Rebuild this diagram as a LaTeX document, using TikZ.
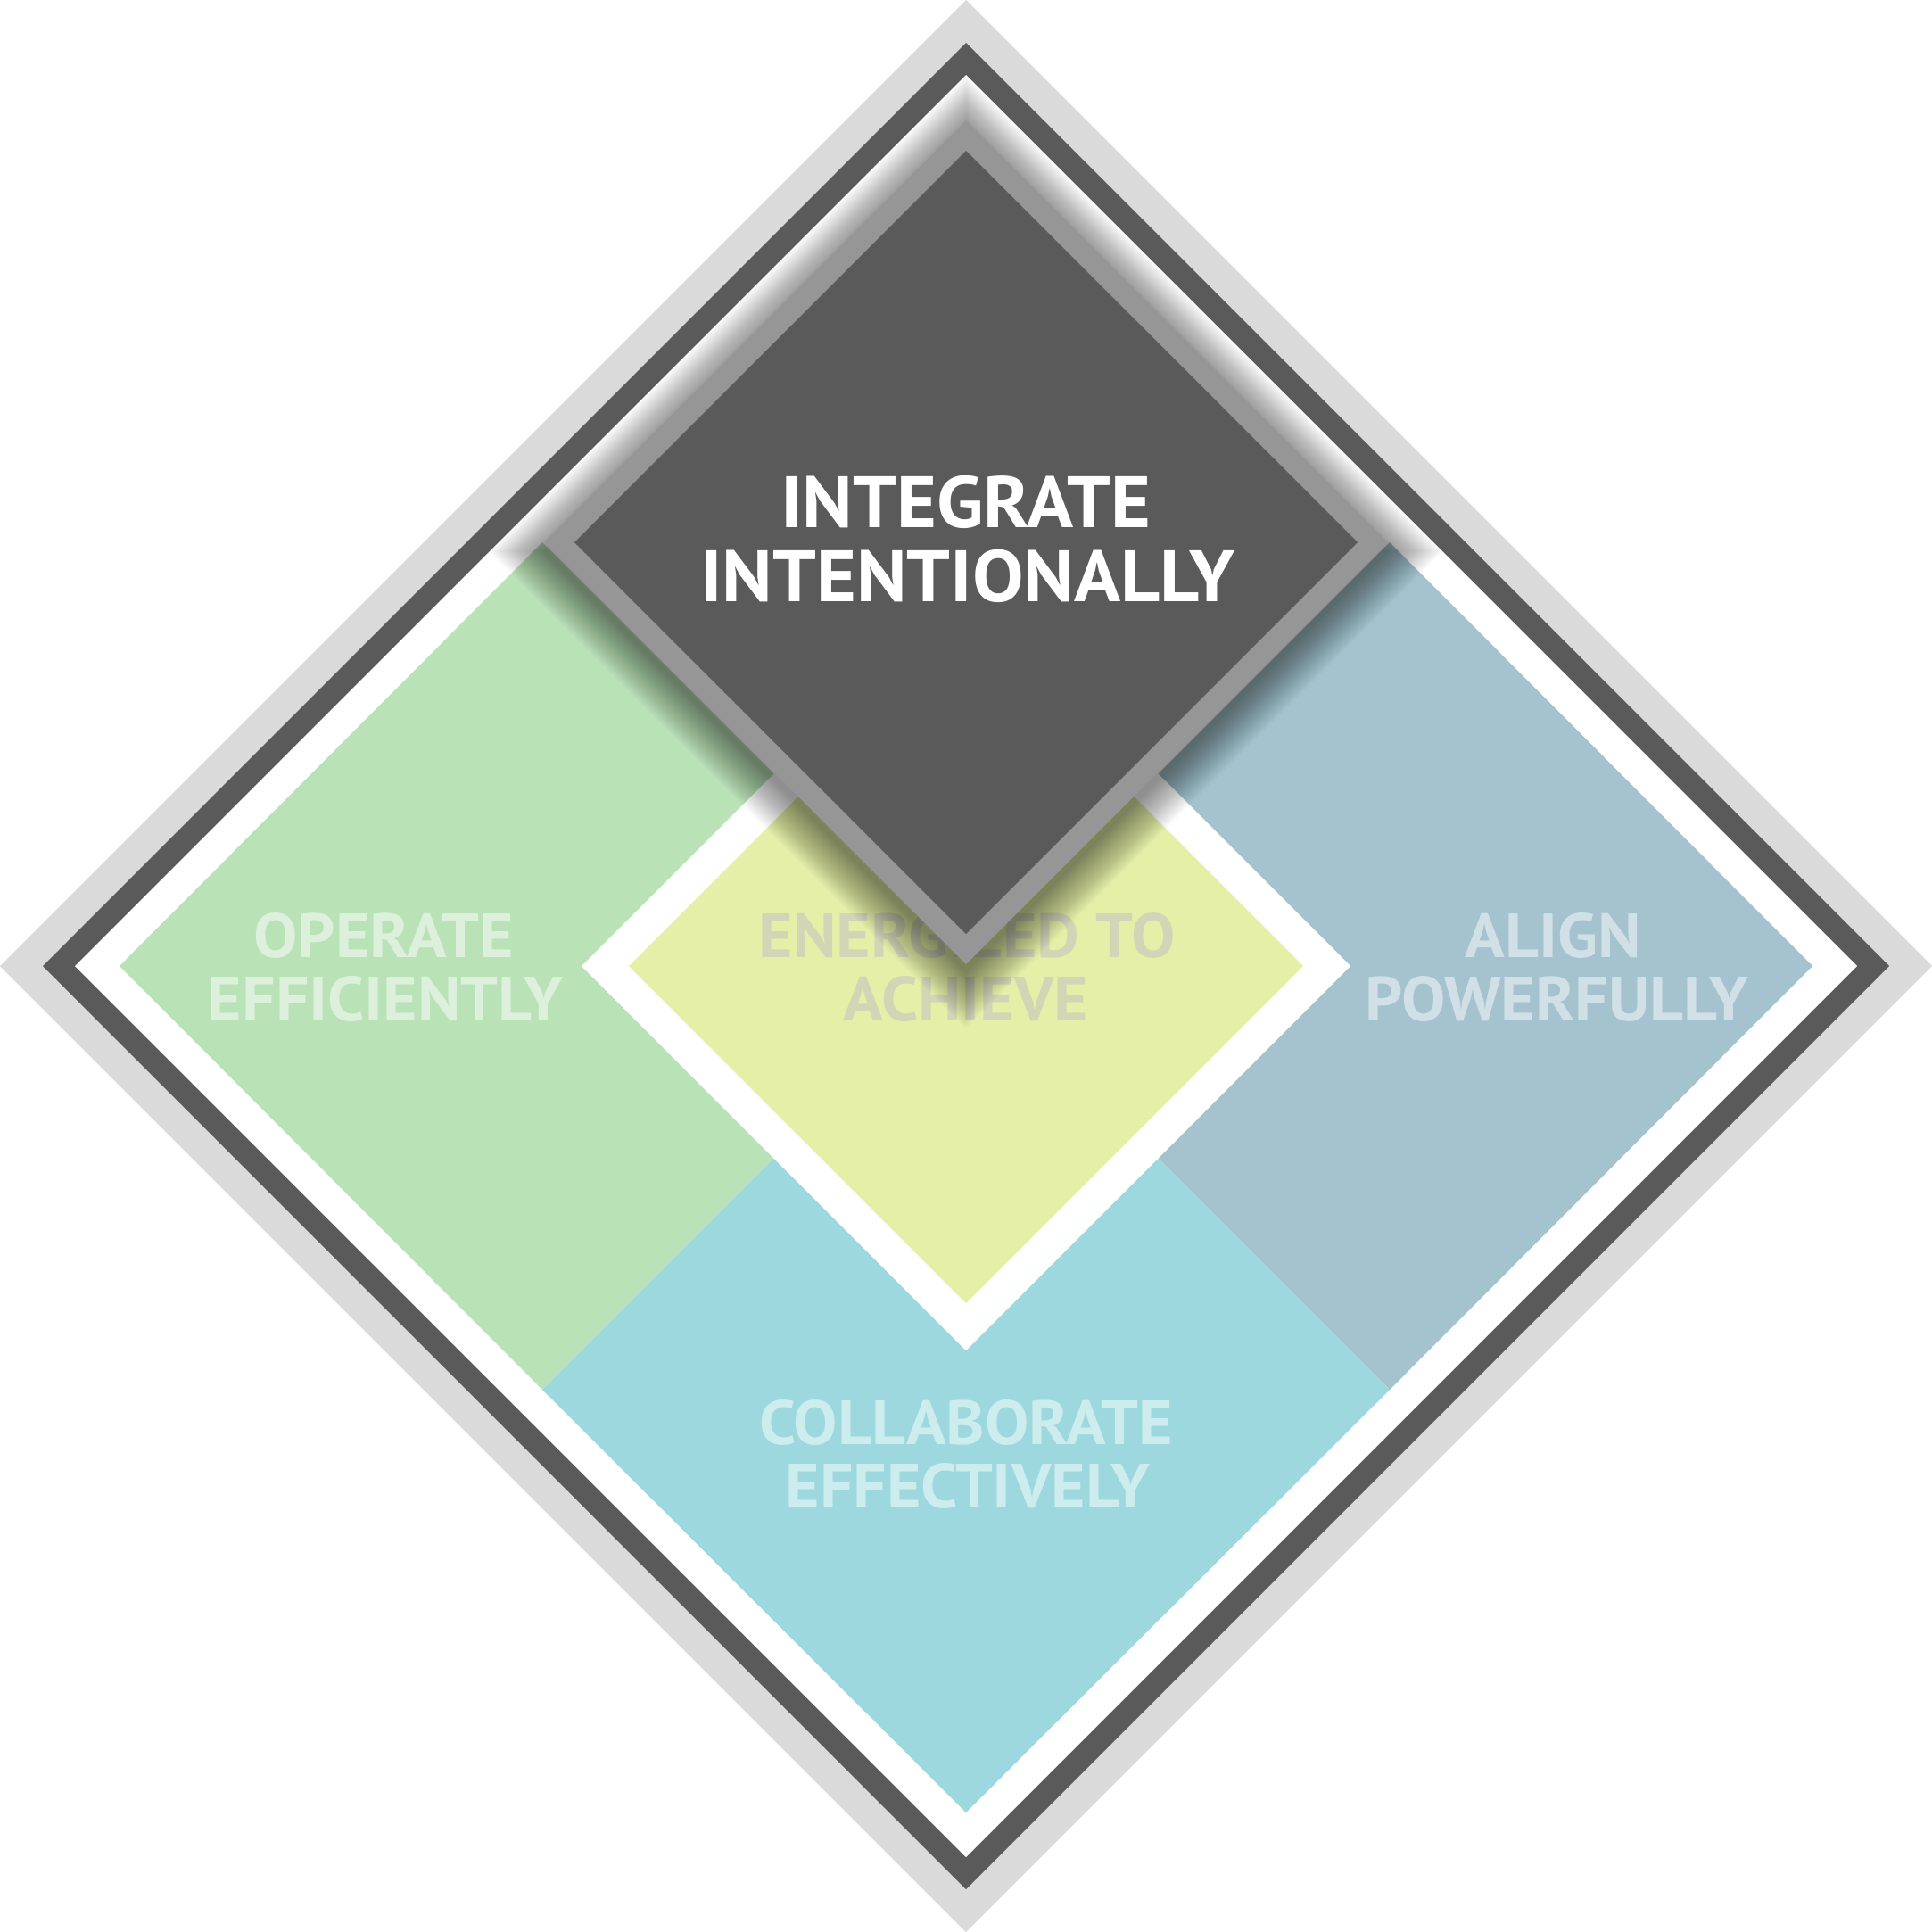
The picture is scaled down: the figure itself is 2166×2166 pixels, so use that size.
\documentclass[tikz,border=0pt]{standalone}
\usepackage{fontspec}
\setmainfont{PT Sans}[FakeStretch=1.055]
\definecolor{outerg}{HTML}{DBDADB}
\definecolor{bandd}{HTML}{5A5A5A}
\definecolor{qgreen}{HTML}{B9E2B7}
\definecolor{qblue}{HTML}{A4C3CF}
\definecolor{qteal}{HTML}{9DD8DF}
\definecolor{qyellow}{HTML}{E5EFA8}
\definecolor{topborder}{HTML}{969696}
\definecolor{topdark}{HTML}{5A5A5A}
\definecolor{tgreen}{HTML}{DCF0DC}
\definecolor{tblue}{HTML}{D1E0E7}
\definecolor{tteal}{HTML}{CCECEE}
\definecolor{tyellow}{HTML}{D2D6B6}
\newcommand{\dmd}[3]{({#1-(#3)},{#2}) -- ({#1},{#2-(#3)}) -- ({#1+(#3)},{#2}) -- ({#1},{#2+(#3)}) -- cycle}
\begin{document}
\begin{tikzpicture}[x=0.01cm,y=-0.01cm,
  lbl/.style={inner sep=0pt,anchor=base,font=\fontsize{19.9}{20}\selectfont\bfseries},
  toplbl/.style={inner sep=0pt,anchor=base,text=white,font=\fontsize{23.2}{24}\selectfont\bfseries},
  shadowlayer/.style={fill=black,fill opacity=0.016}]
\useasboundingbox (0,0) rectangle (2166,2166);
\coordinate (C) at (1083,1083);
\coordinate (T) at (1083,608);
% frame
\fill[outerg] \dmd{1083}{1083}{1083};
\fill[bandd] \dmd{1083}{1083}{1035};
\fill[white] \dmd{1083}{1083}{999};
% quadrants
\fill[qgreen] (134,1083) -- (608,608) -- (1083,1083) -- (608,1558) -- cycle;
\fill[qblue] (1083,1083) -- (1558,608) -- (2032,1083) -- (1558,1558) -- cycle;
\fill[qteal] (608,1558) -- (1083,1083) -- (1558,1558) -- (1083,2032) -- cycle;
% centre
\fill[white] \dmd{1083}{1083}{431};
\fill[qyellow] \dmd{1083}{1083}{378};
% labels
\node[lbl,text=tgreen] (op1) at (430,1073) {OPERATE};
\node[lbl,text=tgreen] (op2) at (432,1144) {EFFICIENTLY};
\node[lbl,text=tblue] (al1) at (1741,1073) {ALIGN};
\node[lbl,text=tblue] (al2) at (1745,1144) {POWERFULLY};
\node[lbl,text=tteal] (co1) at (1083,1619) {COLLABORATE};
\node[lbl,text=tteal] (co2) at (1085,1690) {EFFECTIVELY};
\node[lbl,text=tyellow] (en1) at (1084,1073) {ENERGIZED TO};
\node[lbl,text=tyellow] (en2) at (1083,1144) {ACHIEVE};
% shadow
\foreach \k in {1,...,32}{
  \fill[shadowlayer] \dmd{1083}{618}{471+2*\k};
}
% top diamond
\fill[topborder] \dmd{1083}{608}{473};
\fill[topdark] \dmd{1083}{608}{439};
\node[toplbl] (in1) at (1083,591) {INTEGRATE};
\node[toplbl] (in2) at (1085,674) {INTENTIONALLY};
\end{tikzpicture}
\end{document}
